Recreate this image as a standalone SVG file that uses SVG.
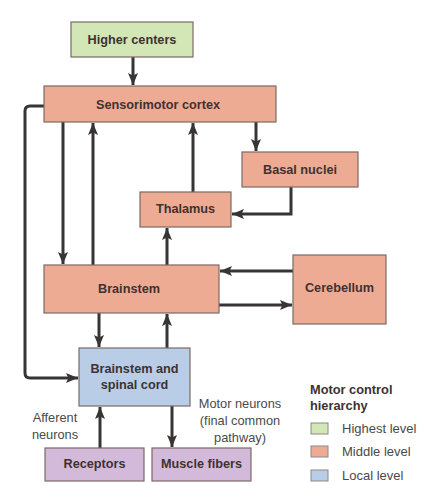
<svg xmlns="http://www.w3.org/2000/svg" width="425" height="500" viewBox="0 0 425 500">
<style>
.node rect{stroke:#7a6a66;stroke-width:1.2}
.hi{fill:#d3e6b5}
.mid{fill:#eeab93}
.loc{fill:#b9cde6}
.per{fill:#d3bada}
.lbl{font-family:"Liberation Sans",Arial,sans-serif;font-weight:bold;font-size:12.7px;fill:#3e3232;text-anchor:middle}
.note{font-family:"Liberation Sans",Arial,sans-serif;font-size:12.8px;fill:#4a4a4a;text-anchor:middle}
.leg{font-family:"Liberation Sans",Arial,sans-serif;font-size:13px;fill:#4a4a4a}
.legt{font-family:"Liberation Sans",Arial,sans-serif;font-weight:bold;font-size:12.8px;fill:#3e3232}
.conn path{fill:none;stroke:#383434;stroke-width:3}
</style>
<defs>
<marker id="ah" markerUnits="userSpaceOnUse" markerWidth="13" markerHeight="13" viewBox="0 0 13 13" refX="12" refY="6.5" orient="auto">
<path d="M0 1.5 L12 6.5 L0 11.5 L2.5 6.5 Z" fill="#383434"/>
</marker>
</defs>
<rect width="425" height="500" fill="#ffffff"/>
<g class="conn">
<path d="M133 57 V85" marker-end="url(#ah)"/>
<path d="M44 106 H30 Q25 106 25 111 V373 Q25 378 30 378 H78" marker-end="url(#ah)"/>
<path d="M63 122 V264" marker-end="url(#ah)"/>
<path d="M93 265 V123" marker-end="url(#ah)"/>
<path d="M193 192 V123" marker-end="url(#ah)"/>
<path d="M256 122 V151" marker-end="url(#ah)"/>
<path d="M291 187 V214 H232" marker-end="url(#ah)"/>
<path d="M167 265 V228" marker-end="url(#ah)"/>
<path d="M293 271 H220" marker-end="url(#ah)"/>
<path d="M219 305 H292" marker-end="url(#ah)"/>
<path d="M99 313 V347" marker-end="url(#ah)"/>
<path d="M167 348 V314" marker-end="url(#ah)"/>
<path d="M100 448 V407" marker-end="url(#ah)"/>
<path d="M172 406 V447" marker-end="url(#ah)"/>
</g>
<g id="higher-centers" class="node"><rect class="hi" x="71" y="22" width="122" height="35"/><text class="lbl" x="132" y="44">Higher centers</text></g>
<g id="sensorimotor-cortex" class="node"><rect class="mid" x="44" y="86" width="232" height="36"/><text class="lbl" x="158" y="109">Sensorimotor cortex</text></g>
<g id="basal-nuclei" class="node"><rect class="mid" x="242" y="152" width="116" height="35"/><text class="lbl" x="300" y="174">Basal nuclei</text></g>
<g id="thalamus" class="node"><rect class="mid" x="140" y="192" width="91" height="35"/><text class="lbl" x="185.5" y="213">Thalamus</text></g>
<g id="brainstem" class="node"><rect class="mid" x="44" y="265" width="175" height="48"/><text class="lbl" x="129" y="293">Brainstem</text></g>
<g id="cerebellum" class="node"><rect class="mid" x="293" y="255" width="93" height="69"/><text class="lbl" x="339.5" y="292">Cerebellum</text></g>
<g id="brainstem-spinal-cord" class="node"><rect class="loc" x="79" y="348" width="111" height="58"/><text class="lbl" x="134.5" y="373">Brainstem and</text><text class="lbl" x="134.5" y="389">spinal cord</text></g>
<g id="receptors" class="node"><rect class="per" x="45" y="448" width="99" height="33"/><text class="lbl" x="94.5" y="468">Receptors</text></g>
<g id="muscle-fibers" class="node"><rect class="per" x="152" y="448" width="99" height="33"/><text class="lbl" x="201.5" y="468">Muscle fibers</text></g>
<g id="afferent-label"><text class="note" x="55" y="422">Afferent</text><text class="note" x="55" y="439">neurons</text></g>
<g id="motor-label"><text class="note" x="240" y="408">Motor neurons</text><text class="note" x="240" y="425">(final common</text><text class="note" x="240" y="442">pathway)</text></g>
<g id="legend">
<text class="legt" x="310" y="394">Motor control</text>
<text class="legt" x="310" y="410">hierarchy</text>
<rect class="hi" x="311" y="423" width="17" height="11" stroke="#8a8a8a" stroke-width="1"/>
<rect class="mid" x="311" y="446" width="17" height="11" stroke="#8a8a8a" stroke-width="1"/>
<rect class="loc" x="311" y="470" width="17" height="11" stroke="#8a8a8a" stroke-width="1"/>
<text class="leg" x="342" y="433">Highest level</text>
<text class="leg" x="342" y="456">Middle level</text>
<text class="leg" x="342" y="480">Local level</text>
</g>
</svg>
